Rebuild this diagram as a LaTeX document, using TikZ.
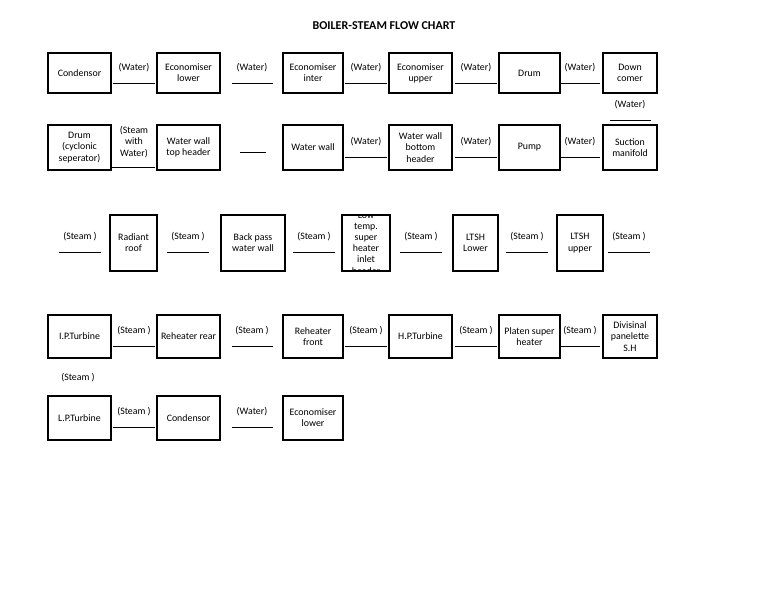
\documentclass[tikz,border=0pt]{standalone}
\usepackage{fontspec}
\setmainfont{Carlito}
\begin{document}
\begin{tikzpicture}[x=0.75pt,y=-0.75pt,
  box/.style={draw,line width=1.3pt,inner sep=0pt,align=center,font=\fontsize{7.4pt}{8.4pt}\selectfont},
  lab/.style={inner sep=0pt,align=center,font=\fontsize{7.4pt}{8.4pt}\selectfont},
  uline/.style={line width=0.5pt}]
\useasboundingbox[fill=white] (0,0) rectangle (768,594);
\node[font=\bfseries\fontsize{9pt}{10pt}\selectfont] (title) at (384,26) {BOILER-STEAM FLOW CHART};
% helper
\newcommand{\bx}[6]{\node[box,minimum width=#3*0.75pt,minimum height=#4*0.75pt] (#1) at (#2,#5) {#6};}
\newcommand{\lb}[5]{\node[lab] (#1) at (#2,#3) {#4}; \draw[uline] (#2-#5/2,#3+15) coordinate (#1a) -- (#2+#5/2,#3+15) coordinate (#1b);}
% row 1
\bx{a1}{79.5}{63}{40}{73}{Condensor}
\bx{a2}{188.5}{63}{40}{73}{Economiser\\lower}
\bx{a3}{313}{60}{40}{73}{Economiser\\inter}
\bx{a4}{420.5}{63}{40}{73}{Economiser\\upper}
\bx{a5}{529.5}{61}{40}{73}{Drum}
\bx{a6}{630}{54}{40}{73}{Down\\comer}
\lb{w1}{134}{68}{(Water)}{42}
\lb{w2}{252}{68}{(Water)}{41}
\lb{w3}{366}{68}{(Water)}{42}
\lb{w4}{476}{68}{(Water)}{42}
\lb{w5}{580}{68}{(Water)}{40}
\lb{w6}{630}{105}{(Water)}{41}
% row 2
\bx{b1}{79.5}{63}{45}{147.5}{Drum\\(cyclonic\\seperator)}
\bx{b2}{188.5}{63}{45}{147.5}{Water wall\\top header}
\bx{b3}{313}{60}{45}{147.5}{Water wall}
\bx{b4}{420.5}{63}{45}{147.5}{Water wall\\bottom\\header}
\bx{b5}{529.5}{61}{45}{147.5}{Pump}
\bx{b6}{630}{54}{45}{147.5}{Suction\\manifold}
\node[lab] (s1) at (134,142) {(Steam\\with\\Water)};
\draw[uline] (112,167) coordinate (s1a) -- (155,167) coordinate (s1b);
\draw[uline] (240,152) coordinate (d1) -- (266,152) coordinate (d2);
\lb{x3}{366}{142}{(Water)}{42}
\lb{x4}{476}{142}{(Water)}{42}
\lb{x5}{580}{142}{(Water)}{40}
% row 3
\bx{c1}{133.5}{47}{56}{243}{Radiant\\roof}
\bx{c2}{253}{64}{56}{243}{Back pass\\water wall}
\node[box,minimum width=48*0.75pt,minimum height=56*0.75pt] (c3) at (366,243) {};
\begin{scope}
\clip (342,215) rectangle (390,271);
\node[lab] at (366,243) {Low\\temp.\\super\\heater\\inlet\\header};
\end{scope}
\bx{c4}{475.5}{45}{56}{243}{LTSH\\Lower}
\bx{c5}{580}{46}{56}{243}{LTSH\\upper}
\lb{t1}{80}{237}{(Steam )}{42}
\lb{t2}{188}{237}{(Steam )}{42}
\lb{t3}{314}{237}{(Steam )}{42}
\lb{t4}{421}{237}{(Steam )}{42}
\lb{t5}{527}{237}{(Steam )}{42}
\lb{t6}{629}{237}{(Steam )}{42}
% row 4
\bx{d1}{79.5}{63}{43}{336.5}{I.P.Turbine}
\bx{d2}{188.5}{63}{43}{336.5}{Reheater rear}
\bx{d3}{313}{60}{43}{336.5}{Reheater\\front}
\bx{d4}{420.5}{63}{43}{336.5}{H.P.Turbine}
\bx{d5}{529.5}{61}{43}{336.5}{Platen super\\heater}
\bx{d6}{630}{54}{43}{336.5}{Divisinal\\panelette\\S.H}
\lb{u1}{134}{331}{(Steam )}{42}
\lb{u2}{252}{331}{(Steam )}{41}
\lb{u3}{366}{331}{(Steam )}{42}
\lb{u4}{476}{331}{(Steam )}{42}
\lb{u5}{580}{331}{(Steam )}{40}
\node[lab] (v0) at (78,378) {(Steam )};
% row 5
\bx{e1}{79.5}{63}{44}{418}{L.P.Turbine}
\bx{e2}{188.5}{63}{44}{418}{Condensor}
\bx{e3}{313}{60}{44}{418}{Economiser\\lower}
\lb{v1}{134}{412}{(Steam )}{42}
\lb{v2}{252}{412}{(Water)}{41}
\end{tikzpicture}
\end{document}
